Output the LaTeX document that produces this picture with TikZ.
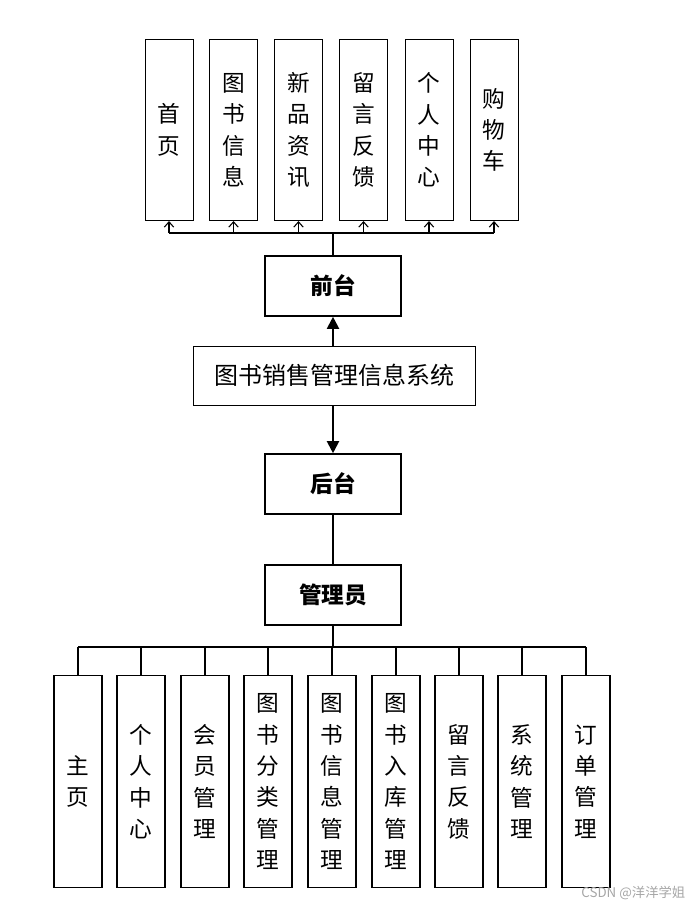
\documentclass[tikz,border=0pt]{standalone}
\usepackage{fontspec}
\newfontfamily\cjk{Noto Sans CJK SC}
\usetikzlibrary{arrows.meta}
\begin{document}
\begin{tikzpicture}[x=0.75pt,y=-0.75pt,
  vbox/.style={draw,line width=0.7pt,minimum width=48*0.75pt,minimum height=181*0.75pt,inner sep=0pt,align=center,font=\cjk\fontsize{17}{23.5}\selectfont},
  bbox/.style={draw,line width=0.8pt,minimum width=48*0.75pt,minimum height=212*0.75pt,inner sep=0pt,align=center,font=\cjk\fontsize{17}{23.5}\selectfont},
  hbox/.style={draw,line width=1.2pt,minimum width=136*0.75pt,minimum height=60*0.75pt,font=\cjk\bfseries\fontsize{17}{20}\selectfont},
  ln/.style={line width=0.8pt},
  up/.style={ln,-{Straight Barb[length=4pt,width=7pt]}}]
\useasboundingbox (0,0) rectangle (693,909);
\foreach \n/\x/\t in {t1/169/首\\页,t2/233.5/图\\书\\信\\息,t3/298.5/新\\品\\资\\讯,t4/363.5/留\\言\\反\\馈,t5/429/个\\人\\中\\心,t6/494/购\\物\\车}
  \node[vbox,anchor=south] (\n) at (\x,221) {\t};
\node[hbox] (qt) at (333,286) {前台};
\node[draw,line width=0.7pt,minimum width=282*0.75pt,minimum height=59*0.75pt,font=\cjk\fontsize{18}{20}\selectfont] (sys) at (334,375.5) {图书销售管理信息系统};
\node[hbox] (ht) at (333,484) {后台};
\node[hbox] (gl) at (333,595) {管理员};
\coordinate (tb) at (333,233);
\draw[line width=1.5pt] (qt.north) -- (tb);
\draw[ln] (t1.south |- tb) -- (t6.south |- tb);
\foreach \n in {t1,t2,t3,t4,t5,t6} \draw[up] (\n.south |- tb) -- (\n.south);
\draw[line width=1.5pt,-{Triangle[length=9pt,width=9pt]}] (sys.north -| qt) -- (qt.south);
\draw[line width=1.5pt,-{Triangle[length=9pt,width=9pt]}] (sys.south -| ht) -- (ht.north);
\draw[ln] (ht.south) -- (gl.north);
\foreach \n/\x/\t in {b1/78/主\\页,b2/141/个\\人\\中\\心,b3/205/会\\员\\管\\理,b4/268/图\\书\\分\\类\\管\\理,b5/332/图\\书\\信\\息\\管\\理,b6/396/图\\书\\入\\库\\管\\理,b7/459/留\\言\\反\\馈,b8/522/系\\统\\管\\理,b9/586/订\\单\\管\\理}
  \node[bbox,anchor=north] (\n) at (\x,675) {\t};
\coordinate (bb) at (333,647);
\draw[line width=1.5pt] (gl.south) -- (bb);
\draw[ln] (b1.north |- bb) -- (b9.north |- bb);
\foreach \n in {b1,b2,b3,b4,b5,b6,b7,b8,b9} \draw[ln] (\n.north |- bb) -- (\n.north);
\node[anchor=south east,text=gray!70,font=\cjk\fontsize{10}{12}\selectfont] (wm) at (690,905) {CSDN @洋洋学姐};
\end{tikzpicture}
\end{document}
